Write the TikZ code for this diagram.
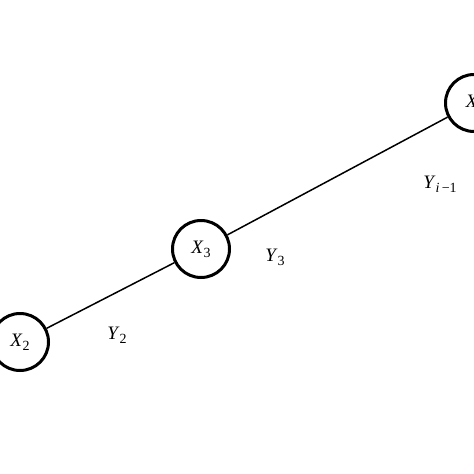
\documentclass[tikz,border=0pt]{standalone}
\usepackage{fontspec}
\setmainfont{Liberation Serif}
\newcommand{\sbs}[1]{\raisebox{-0.45ex}{\fontsize{14}{14}\selectfont #1}}
\begin{document}
\begin{tikzpicture}[x=1pt,y=-1pt,
  vnode/.style={circle,draw,line width=3pt,minimum size=57pt,inner sep=0pt,font=\fontsize{19}{19}\selectfont},
  elabel/.style={font=\fontsize{19}{19}\selectfont,inner sep=0pt},
  link/.style={line width=1.5pt}]
\useasboundingbox (0,0) rectangle (474,474);
\node[vnode] (x2) at (20,342) {\textit{X}\sbs{2}};
\node[vnode] (x3) at (201,249) {\textit{X}\sbs{3}};
\node[vnode] (xi) at (474,103) {\textit{X}\sbs{\textit{i}}};
\draw[link] (x2) -- (x3);
\draw[link] (x3) -- (xi);
\node[elabel] (y2) at (117,335) {\textit{Y}\sbs{2}};
\node[elabel] (y3) at (275,257) {\textit{Y}\sbs{3}};
\node[elabel] (yi) at (440,184) {\textit{Y}\sbs{\textit{i}\,−1}};
\end{tikzpicture}
\end{document}
